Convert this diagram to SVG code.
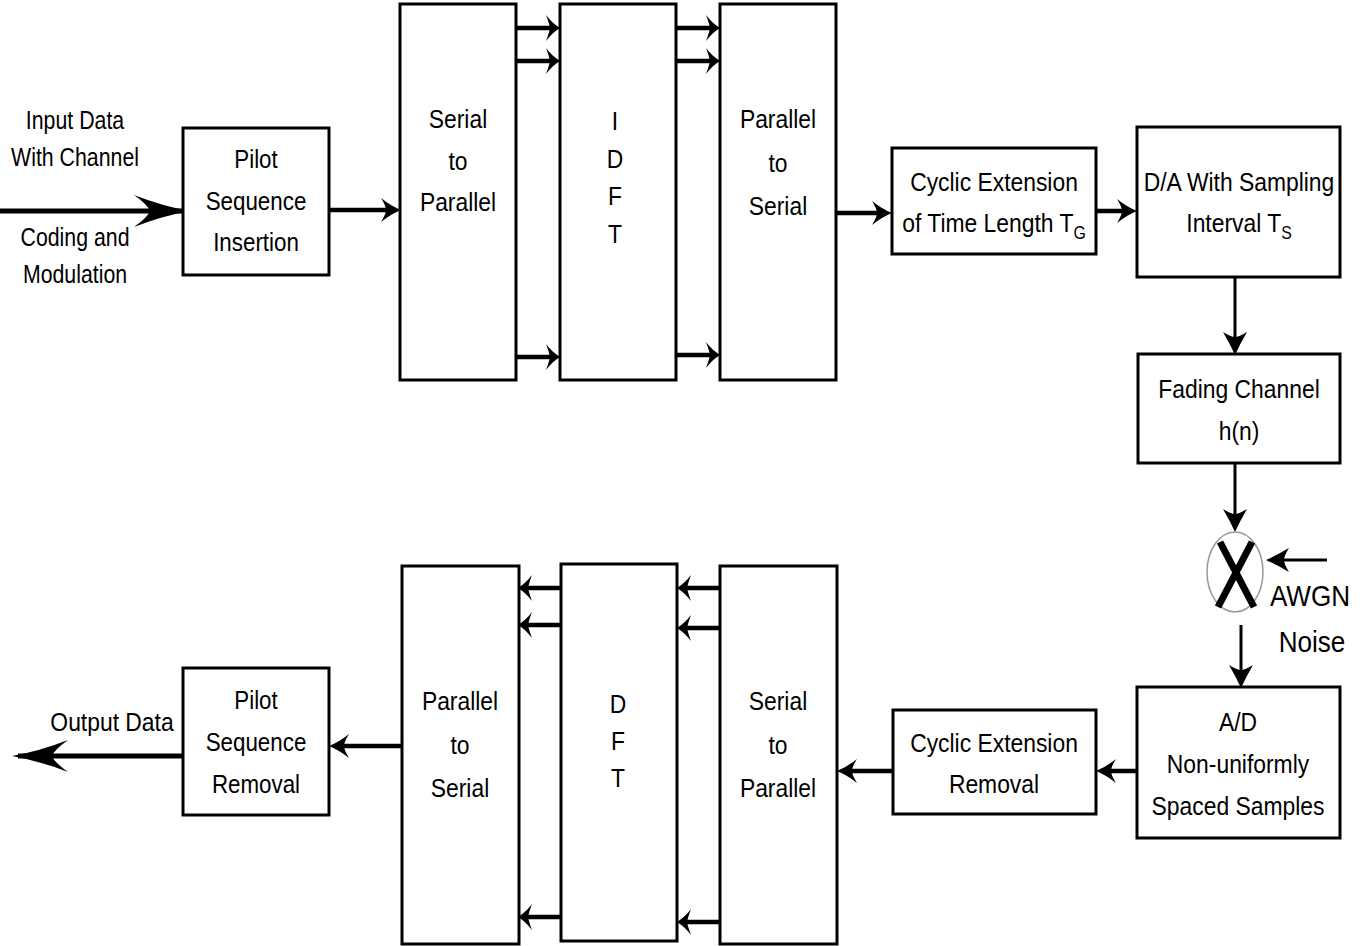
<svg xmlns="http://www.w3.org/2000/svg" width="1364" height="946" viewBox="0 0 1364 946">
<defs>
<style>
.box{fill:#fff;stroke:#000;stroke-width:3}
.t{font-family:"Liberation Sans",Arial,sans-serif;font-size:26px;fill:#000;text-anchor:middle}
.big{font-size:30px}
.sub{font-size:18px}
.c{fill:none;stroke:#000}
.w5{stroke-width:5}
.w4{stroke-width:4.5}
.w3{stroke-width:3}
</style>
<marker id="big" markerUnits="userSpaceOnUse" viewBox="-60 -18 68 36" refX="0" refY="0" markerWidth="68" markerHeight="36" orient="auto">
<path d="M6,0 Q-22,-5 -50,-16 Q-36,-6 -34,0 Q-36,6 -50,16 Q-22,5 6,0Z" fill="#000"/>
</marker>
<marker id="med" markerUnits="userSpaceOnUse" viewBox="-20 -14 28 28" refX="0" refY="0" markerWidth="28" markerHeight="28" orient="auto">
<path d="M6,0 Q-4,-4 -14,-12 Q-9,-4 -9,0 Q-9,4 -14,12 Q-4,4 6,0Z" fill="#000"/>
</marker>
<marker id="sm" markerUnits="userSpaceOnUse" viewBox="-16 -15 24 30" refX="0" refY="0" markerWidth="24" markerHeight="30" orient="auto">
<path d="M5,0 Q-3,-5 -9,-13 Q-6,-5 -5,0 Q-6,5 -9,13 Q-3,5 5,0Z" fill="#000"/>
</marker>
<marker id="vt" markerUnits="userSpaceOnUse" viewBox="-22 -14 30 28" refX="0" refY="0" markerWidth="30" markerHeight="28" orient="auto">
<path d="M5,0 Q-6,-5 -18,-12 Q-13,-4 -13,0 Q-13,4 -18,12 Q-6,5 5,0Z" fill="#000"/>
</marker>
</defs>
<rect width="1364" height="946" fill="#fff"/>

<g id="connectors">
<line class="c w5" x1="0" y1="211" x2="184" y2="211" marker-end="url(#big)"/>
<line class="c w4" x1="329" y1="210" x2="395" y2="210" marker-end="url(#med)"/>
<line class="c w4" x1="516" y1="28" x2="555" y2="28" marker-end="url(#sm)"/>
<line class="c w4" x1="516" y1="61" x2="555" y2="61" marker-end="url(#sm)"/>
<line class="c w4" x1="516" y1="357" x2="555" y2="357" marker-end="url(#sm)"/>
<line class="c w4" x1="676" y1="28" x2="715" y2="28" marker-end="url(#sm)"/>
<line class="c w4" x1="676" y1="61" x2="715" y2="61" marker-end="url(#sm)"/>
<line class="c w4" x1="676" y1="355" x2="715" y2="355" marker-end="url(#sm)"/>
<line class="c w4" x1="836" y1="213" x2="886" y2="213" marker-end="url(#med)"/>
<line class="c w4" x1="1096" y1="211" x2="1131" y2="211" marker-end="url(#med)"/>
<line class="c w3" x1="1235" y1="277" x2="1235" y2="350" marker-end="url(#vt)"/>
<line class="c w3" x1="1235" y1="463" x2="1235" y2="527" marker-end="url(#vt)"/>
<line class="c w3" x1="1327" y1="560" x2="1271" y2="560" marker-end="url(#vt)"/>
<line class="c w3" x1="1241" y1="625" x2="1241" y2="683" marker-end="url(#vt)"/>
<line class="c w4" x1="1137" y1="771" x2="1102" y2="771" marker-end="url(#med)"/>
<line class="c w4" x1="893" y1="771" x2="843" y2="771" marker-end="url(#med)"/>
<line class="c w4" x1="720" y1="588" x2="682" y2="588" marker-end="url(#sm)"/>
<line class="c w4" x1="720" y1="628" x2="682" y2="628" marker-end="url(#sm)"/>
<line class="c w4" x1="720" y1="922" x2="682" y2="922" marker-end="url(#sm)"/>
<line class="c w4" x1="561" y1="588" x2="523" y2="588" marker-end="url(#sm)"/>
<line class="c w4" x1="561" y1="625" x2="523" y2="625" marker-end="url(#sm)"/>
<line class="c w4" x1="561" y1="917" x2="523" y2="917" marker-end="url(#sm)"/>
<line class="c w4" x1="402" y1="746" x2="335" y2="746" marker-end="url(#med)"/>
<line class="c w5" x1="183" y1="756" x2="18" y2="756" marker-end="url(#big)"/>
</g>

<g id="input-label">
<text class="t" transform="translate(75,129) scale(0.82,1)">Input Data</text>
<text class="t" transform="translate(75,166) scale(0.82,1)">With Channel</text>
<text class="t" transform="translate(75,246) scale(0.82,1)">Coding and</text>
<text class="t" transform="translate(75,283) scale(0.82,1)">Modulation</text>
</g>

<g id="pilot-insertion">
<rect class="box" x="183" y="128" width="146" height="147"/>
<text class="t" transform="translate(256,168) scale(0.86,1)">Pilot</text>
<text class="t" transform="translate(256,210) scale(0.86,1)">Sequence</text>
<text class="t" transform="translate(256,251) scale(0.86,1)">Insertion</text>
</g>

<g id="sp-top">
<rect class="box" x="400" y="4" width="116" height="376"/>
<text class="t" transform="translate(458,128) scale(0.88,1)">Serial</text>
<text class="t" transform="translate(458,170) scale(0.88,1)">to</text>
<text class="t" transform="translate(458,211) scale(0.88,1)">Parallel</text>
</g>

<g id="idft">
<rect class="box" x="560" y="4" width="116" height="376"/>
<text class="t" transform="translate(615,130) scale(0.88,1)">I</text>
<text class="t" transform="translate(615,168) scale(0.88,1)">D</text>
<text class="t" transform="translate(615,205) scale(0.88,1)">F</text>
<text class="t" transform="translate(615,243) scale(0.88,1)">T</text>
</g>

<g id="ps-top">
<rect class="box" x="720" y="4" width="116" height="376"/>
<text class="t" transform="translate(778,128) scale(0.88,1)">Parallel</text>
<text class="t" transform="translate(778,172) scale(0.88,1)">to</text>
<text class="t" transform="translate(778,215) scale(0.88,1)">Serial</text>
</g>

<g id="cyclic-ext">
<rect class="box" x="892" y="148" width="204" height="106"/>
<text class="t" transform="translate(994,191) scale(0.88,1)">Cyclic Extension</text>
<text class="t" transform="translate(994,232) scale(0.88,1)">of Time Length T<tspan class="sub" dy="7">G</tspan></text>
</g>

<g id="da">
<rect class="box" x="1137" y="127" width="203" height="150"/>
<text class="t" transform="translate(1239,191) scale(0.88,1)">D/A With Sampling</text>
<text class="t" transform="translate(1239,232) scale(0.88,1)">Interval T<tspan class="sub" dy="7">S</tspan></text>
</g>

<g id="fading">
<rect class="box" x="1138" y="354" width="202" height="109"/>
<text class="t" transform="translate(1239,398) scale(0.88,1)">Fading Channel</text>
<text class="t" transform="translate(1239,440) scale(0.88,1)">h(n)</text>
</g>

<g id="mixer">
<ellipse cx="1235" cy="572" rx="28" ry="40" fill="#fff" stroke="#999" stroke-width="1.5"/>
<line x1="1220" y1="542" x2="1254" y2="607" stroke="#000" stroke-width="7"/>
<line x1="1252" y1="542" x2="1218" y2="607" stroke="#000" stroke-width="7"/>
</g>

<g id="awgn-label">
<text class="t big" transform="translate(1310,606) scale(0.87,1)">AWGN</text>
<text class="t big" transform="translate(1312,652) scale(0.87,1)">Noise</text>
</g>

<g id="ad">
<rect class="box" x="1137" y="687" width="203" height="151"/>
<text class="t" transform="translate(1238,731) scale(0.88,1)">A/D</text>
<text class="t" transform="translate(1238,773) scale(0.88,1)">Non-uniformly</text>
<text class="t" transform="translate(1238,815) scale(0.88,1)">Spaced Samples</text>
</g>

<g id="cyclic-removal">
<rect class="box" x="893" y="710" width="203" height="104"/>
<text class="t" transform="translate(994,752) scale(0.88,1)">Cyclic Extension</text>
<text class="t" transform="translate(994,793) scale(0.88,1)">Removal</text>
</g>

<g id="sp-bottom">
<rect class="box" x="720" y="566" width="117" height="378"/>
<text class="t" transform="translate(778,710) scale(0.88,1)">Serial</text>
<text class="t" transform="translate(778,754) scale(0.88,1)">to</text>
<text class="t" transform="translate(778,797) scale(0.88,1)">Parallel</text>
</g>

<g id="dft">
<rect class="box" x="561" y="564" width="116" height="377"/>
<text class="t" transform="translate(618,713) scale(0.88,1)">D</text>
<text class="t" transform="translate(618,750) scale(0.88,1)">F</text>
<text class="t" transform="translate(618,787) scale(0.88,1)">T</text>
</g>

<g id="ps-bottom">
<rect class="box" x="402" y="566" width="117" height="378"/>
<text class="t" transform="translate(460,710) scale(0.88,1)">Parallel</text>
<text class="t" transform="translate(460,754) scale(0.88,1)">to</text>
<text class="t" transform="translate(460,797) scale(0.88,1)">Serial</text>
</g>

<g id="pilot-removal">
<rect class="box" x="183" y="668" width="146" height="147"/>
<text class="t" transform="translate(256,709) scale(0.86,1)">Pilot</text>
<text class="t" transform="translate(256,751) scale(0.86,1)">Sequence</text>
<text class="t" transform="translate(256,793) scale(0.86,1)">Removal</text>
</g>

<g id="output-label">
<text class="t" transform="translate(112,731) scale(0.88,1)">Output Data</text>
</g>
</svg>
